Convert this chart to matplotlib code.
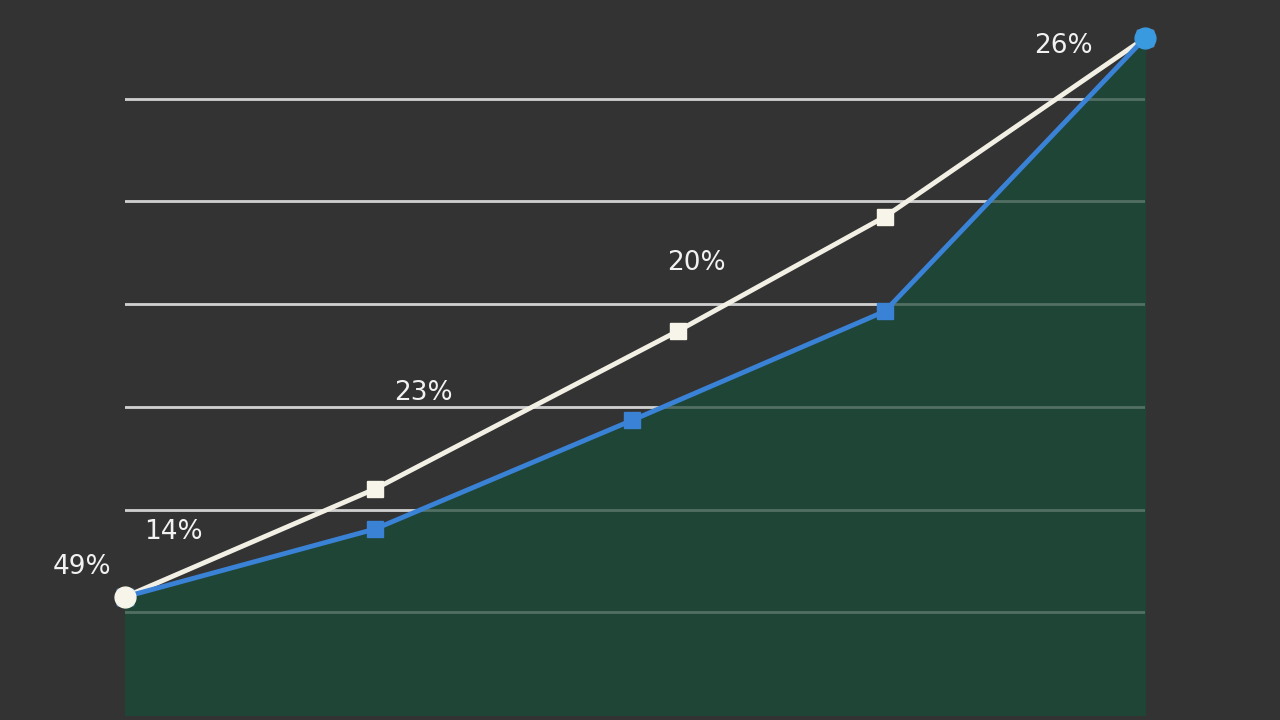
import matplotlib
matplotlib.use("Agg")
import matplotlib.pyplot as plt

white_x = [0, 0.98, 2.17, 2.98, 4]
white_y = [11.5, 22.0, 37.4, 48.5, 65.9]
blue_x = [0, 0.98, 1.99, 2.98, 4]
blue_y = [11.5, 18.1, 28.7, 39.3, 65.9]
labels = ["49%", "14%", "23%", "20%", "26%"]
label_x = [-0.17, 0.19, 1.17, 2.24, 3.68]
label_y = [14.4, 17.8, 31.3, 44.0, 65.1]
grid_y = [10, 20, 30, 40, 50, 60]

bg = "#333333"
fig = plt.figure(figsize=(12.8, 7.2), dpi=100, facecolor=bg)
ax = fig.add_axes([125/1280, 5/720, 1020/1280, 715/720], facecolor=bg)
ax.set_xlim(0, 4)
ax.set_ylim(0, 69.6)
for g in grid_y:
    ax.axhline(g, color="#cfcfcf", lw=2, zorder=1)
ax.fill_between(blue_x, 0, blue_y, color="#1e4536", zorder=1.2)
for g in grid_y:
    ax.axhline(g, color="#cfcfcf", lw=2, alpha=0.3, zorder=1.5)
ax.plot(white_x, white_y, color="#f2f0e4", lw=3.5, marker="s", ms=11,
        mfc="#f7f5ea", mec="#f7f5ea", zorder=3, clip_on=False)
ax.plot(blue_x, blue_y, color="#3a82d6", lw=3.5, marker="s", ms=11,
        mfc="#3a82d6", zorder=4, clip_on=False)
ax.plot([blue_x[-1]], [blue_y[-1]], "o", color="#3a9ae0", ms=15, zorder=5, clip_on=False)
ax.plot([white_x[0]], [white_y[0]], "o", color="#f7f5ea", ms=15, zorder=5, clip_on=False)
for lx, ly, t in zip(label_x, label_y, labels):
    ax.text(lx, ly, t, color="#f2f2f2", fontsize=19, fontweight="medium",
            ha="center", va="center", zorder=6)
for s in ax.spines.values():
    s.set_visible(False)
ax.set_xticks([]); ax.set_yticks([])
fig.savefig("out.png", dpi=100, facecolor=bg)
